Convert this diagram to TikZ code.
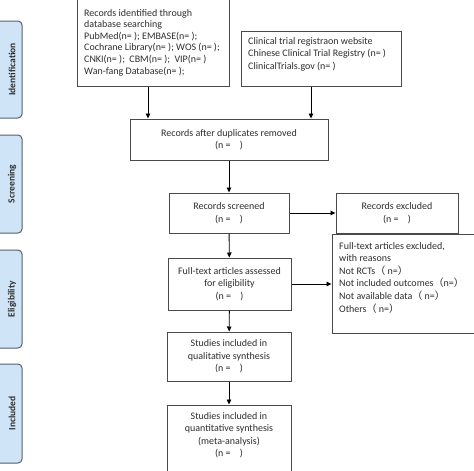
\documentclass[tikz,border=0pt]{standalone}
\usepackage{fontspec}
\setmainfont{Carlito}
\newfontfamily\cjk{Noto Sans CJK SC}
\usetikzlibrary{arrows.meta}
\definecolor{boxgray}{HTML}{4A4A4A}
\definecolor{tabfill}{HTML}{CFE5F7}
\definecolor{tabborder}{HTML}{55616C}
\definecolor{txt}{HTML}{2E2E2E}
\begin{document}
\begin{tikzpicture}[x=1pt,y=-1pt,
  box/.style={draw=boxgray, line width=1pt, fill=white, inner sep=0pt, align=center, text=txt, font=\fontsize{10}{12.5}\selectfont},
  plain/.style={inner sep=0pt, align=left, text=txt, anchor=north west, font=\fontsize{10}{12.6}\selectfont},
  tab/.style={draw=tabborder, fill=tabfill, rounded corners=4pt, line width=1pt},
  tablabel/.style={rotate=90, font=\fontsize{9.5}{11}\selectfont\bfseries, text=txt, inner sep=0pt},
  arr/.style={-{Triangle[length=5pt,width=4.5pt]}, line width=0.9pt, black}]
\useasboundingbox (0,0) rectangle (474,471);
\clip (0,0) rectangle (474,471);

% side tabs
\draw[tab] (-6,21) rectangle (22,118);
\node[tablabel] (lid) at (12,69.5) {Identification};
\draw[tab] (-6,135) rectangle (22,233);
\node[tablabel] (lsc) at (12,184) {Screening};
\draw[tab] (-6,250) rectangle (22,348);
\node[tablabel] (lel) at (12,299) {Eligibility};
\draw[tab] (-6,364) rectangle (22,463);
\node[tablabel] (lin) at (12,413.5) {Included};

% top boxes
\node[box, minimum width=152, minimum height=90] (db) at (153,41) {};
\node[plain, font=\fontsize{10}{11.6}\selectfont] (dbt) at (84,9) {Records identified through\\database searching\\PubMed(n= ); EMBASE(n= );\\Cochrane Library(n= ); WOS (n= );\\CNKI(n= );\ \ CBM(n= );\ \ VIP(n= )\\Wan-fang Database(n= );};

\node[box, minimum width=160, minimum height=55] (reg) at (321.7,58.5) {};
\node[plain] (regt) at (248,37) {Clinical trial registraon website\\Chinese Clinical Trial Registry (n= )\\ClinicalTrials.gov (n= )};

% main column
\node[box, minimum width=198, minimum height=41] (dup) at (229,139.5) {Records after duplicates removed\\(n =\ \ \ \ )};
\node[box, minimum width=120, minimum height=40] (scr) at (229,213) {Records screened\\(n =\ \ \ \ )};
\node[box, minimum width=122, minimum height=40] (exc) at (397,213) {Records excluded\\(n =\ \ \ \ )};
\node[box, minimum width=123, minimum height=52] (ft) at (229.5,284) {Full-text articles assessed\\for eligibility\\(n =\ \ \ \ )};
\node[box, minimum width=150, minimum height=99] (ftx) at (407,283.5) {};
\node[plain] (ftxt) at (339,242) {Full-text articles excluded,\\with reasons\\Not RCTs{\cjk （} n={\cjk ）}\\Not included outcomes{\cjk （}n={\cjk ）}\\Not available data{\cjk （} n={\cjk ）}\\Others{\cjk （} n={\cjk ）}};
\node[box, minimum width=124, minimum height=49] (qual) at (229,356.5) {Studies included in\\qualitative synthesis\\(n =\ \ \ \ )};
\node[box, minimum width=124, minimum height=75] (quant) at (229,442.5) {};
\node[plain, anchor=north, align=center] (quantt) at (229,412) {Studies included in\\quantitative synthesis\\(meta-analysis)\\(n =\ \ \ \ )};

% connectors
\draw[arr] (db.south -| 148,0) -- (dup.north -| 148,0);
\draw[arr] (reg.south -| 311,0) -- (dup.north -| 311,0);
\draw[arr] (dup) -- (scr);
\draw[arr] (scr) -- (exc);
\draw[arr] (scr) -- (ft);
\draw[arr] (ft.east) -- (ftx.west |- ft.east);
\draw[arr] (ft) -- (qual);
\draw[arr] (qual) -- (quant);
\end{tikzpicture}
\end{document}
